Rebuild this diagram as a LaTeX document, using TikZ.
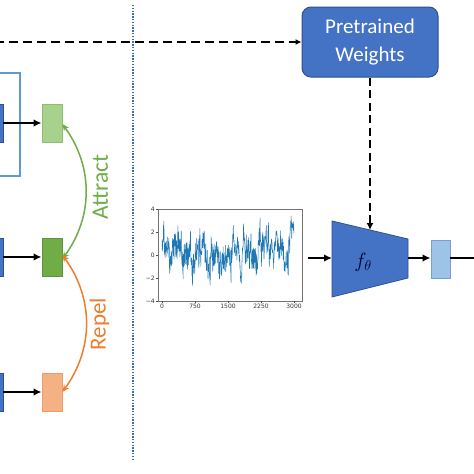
\documentclass[tikz,border=0pt]{standalone}
\usepackage{fontspec}
\setmainfont{Carlito}
\newfontfamily\tickfont{DejaVu Sans}
\usetikzlibrary{arrows.meta}
\definecolor{cblue}{HTML}{4472C4}
\definecolor{cbluedark}{HTML}{2F528F}
\definecolor{clight}{HTML}{9DC3E6}
\definecolor{coutline}{HTML}{5B9BD5}
\definecolor{cglight}{HTML}{A9D18E}
\definecolor{cgdark}{HTML}{70AD47}
\definecolor{cgborder}{HTML}{8DBF6C}
\definecolor{csalmon}{HTML}{F4B183}
\definecolor{csborder}{HTML}{F39A6A}
\definecolor{corange}{HTML}{ED7D31}
\definecolor{cplot}{HTML}{1F77B4}
\definecolor{cdot}{HTML}{3E6DB5}
\tikzset{
  boxnode/.style={draw, line width=0.8pt, inner sep=0pt, minimum width=20pt, minimum height=38pt},
  bluebox/.style={boxnode, fill=cblue, draw=cbluedark, minimum width=22pt},
  solidarrow/.style={line width=2pt, -{Latex[length=8pt,width=7.5pt]}},
  dasharrow/.style={line width=2.5pt, dash pattern=on 9pt off 5pt, -{Latex[length=6pt,width=6pt]}},
  curvearrow/.style={line width=1.5pt, {Stealth[length=7pt,width=6pt]}-{Stealth[length=7pt,width=6pt]}},
  ticklabel/.style={font=\tickfont\fontsize{6}{7}\selectfont, inner sep=1pt, text=black!80},
}
\begin{document}
\begin{tikzpicture}[x=1pt, y=-1pt]
\useasboundingbox (0,0) rectangle (474,474);
\clip (0,0) rectangle (474,474);
\fill[white] (0,0) rectangle (474,474);

% dotted separator
\draw[cdot, line width=1.7pt, dash pattern=on 1.3pt off 1.5pt] (133,5) -- (133,460);

% ---------- left part ----------
\draw[coutline, line width=1.2pt] (-10,73) rectangle (20,176);

\node[bluebox] (b1) at (-8,123) {};
\node[bluebox] (b2) at (-8,257) {};
\node[bluebox] (b3) at (-8,392) {};

\node[boxnode, fill=cglight, draw=cgborder] (g1) at (52,123) {};
\node[boxnode, fill=cgdark, draw=cgdark!85!black] (g2) at (52,257) {};
\node[boxnode, fill=csalmon, draw=csborder] (g3) at (52,392) {};

\draw[solidarrow] (b1.east) -- (g1.west);
\draw[solidarrow] (b2.east) -- (g2.west);
\draw[solidarrow] (b3.east) -- (g3.west);

\draw[curvearrow, cgdark] ([yshift=-2pt]g2.east) to[bend right=36] ([yshift=-1pt]g1.east);
\draw[curvearrow, corange] ([yshift=2pt]g2.east) to[bend left=36] (g3.east);

\node[rotate=90, text=cgdark, font=\fontsize{23.5}{26}\selectfont, inner sep=0pt] (att) at (100.5,187) {Attract};
\node[rotate=90, text=corange, font=\fontsize{23}{26}\selectfont, inner sep=0pt] (rep) at (99.5,324) {Repel};

% ---------- right part ----------
\node[draw=cbluedark, fill=cblue, line width=1pt, rounded corners=9pt,
      minimum width=136pt, minimum height=70pt, align=center, text=white,
      font=\fontsize{21}{28}\selectfont] (pw) at (370,42) {Pretrained\\Weights};

\coordinate (lstart) at (-5,42);
\draw[dasharrow] (lstart) -- (pw.west);

% trapezoid encoder
\draw[fill=cblue, draw=cbluedark, line width=0.8pt] (332,221) -- (408,239) -- (408,278) -- (332,297) -- cycle;
\node[font=\fontsize{22}{24}\selectfont, text=black!80!blue] (f) at (363,262) {$f_\theta$};
\coordinate (ftop) at (370,230);
\coordinate (fin) at (332,258);
\coordinate (fout) at (408,258);

\draw[line width=2pt, dash pattern=on 8pt off 4.5pt, -{Latex[length=7pt,width=7pt]}] (pw.south) -- (ftop);

\node[boxnode, fill=clight, draw=cblue!70, minimum width=19pt] (z) at (440.5,259) {};
\draw[solidarrow] (fout) -- (z.west |- fout);
\coordinate (rend) at (480,258);
\draw[line width=2pt] (z.east |- fout) -- (rend);

% ---------- plot ----------
\coordinate (plotout) at (308,258);
\draw[solidarrow] (plotout) -- (fin);

\draw[black!55, line width=0.5pt] (158,209) rectangle (302,301);
\foreach \v/\lab in {4/4, 2/2, 0/0, -2/{−2}, -4/{−4}}{
  \draw[black!70, line width=0.4pt] (158,255-11.5*\v) -- (156,255-11.5*\v);
  \node[ticklabel, anchor=east] at (156,255-11.5*\v) {\lab};
}
\foreach \t in {0,750,1500,2250,3000}{
  \draw[black!70, line width=0.4pt] (162+0.044*\t,301) -- (162+0.044*\t,303);
  \node[ticklabel, anchor=north] at (162+0.044*\t,303) {\t};
}

\pgfmathsetseed{11}
\xdef\state{0.4}
\xdef\pts{}
\foreach \i in {0,...,700}{
  \pgfmathsetmacro\newstate{0.88*\state + 0.85*rand}
  \pgfmathsetmacro\val{\i>688 ? 2.5+0.6*rand : \newstate + 0.75*rand + 0.15}
  \pgfmathsetmacro\cl{max(-3.4,min(3.4,\val))}
  \pgfmathsetmacro\px{162+\i*0.18857}
  \pgfmathsetmacro\py{255-11.5*\cl}
  \xdef\state{\newstate}
  \xdef\pts{\pts (\px,\py)}
}
\edef\drawsig{\noexpand\draw[cplot, line width=0.5pt, line join=round] plot coordinates {\pts};}
\drawsig
\end{tikzpicture}
\end{document}
